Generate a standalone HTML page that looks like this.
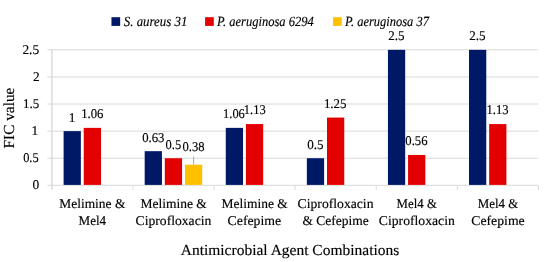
<!DOCTYPE html>
<html><head><meta charset="utf-8"><title>FIC chart</title><style>html,body{margin:0;padding:0;background:#fff;width:550px;height:262px;overflow:hidden}svg{display:block}text{font-family:"Liberation Serif",serif;fill:#000;text-rendering:geometricPrecision;stroke:#000;stroke-width:0.15px}</style></head><body>
<svg width="550" height="262" viewBox="0 0 550 262">
<rect width="550" height="262" fill="#fff"/>
<line x1="47.30" y1="185.30" x2="538.40" y2="185.30" stroke="#d9d9d9" stroke-width="1.00"/>
<line x1="47.30" y1="158.21" x2="538.40" y2="158.21" stroke="#d9d9d9" stroke-width="1.00"/>
<line x1="47.30" y1="131.12" x2="538.40" y2="131.12" stroke="#d9d9d9" stroke-width="1.00"/>
<line x1="47.30" y1="104.03" x2="538.40" y2="104.03" stroke="#d9d9d9" stroke-width="1.00"/>
<line x1="47.30" y1="76.94" x2="538.40" y2="76.94" stroke="#d9d9d9" stroke-width="1.00"/>
<line x1="47.30" y1="49.85" x2="538.40" y2="49.85" stroke="#d9d9d9" stroke-width="1.00"/>
<line x1="51.90" y1="49.35" x2="51.90" y2="189.60" stroke="#d9d9d9" stroke-width="1.40"/>
<line x1="132.98" y1="185.30" x2="132.98" y2="189.60" stroke="#d9d9d9" stroke-width="1.00"/>
<line x1="214.07" y1="185.30" x2="214.07" y2="189.60" stroke="#d9d9d9" stroke-width="1.00"/>
<line x1="295.15" y1="185.30" x2="295.15" y2="189.60" stroke="#d9d9d9" stroke-width="1.00"/>
<line x1="376.23" y1="185.30" x2="376.23" y2="189.60" stroke="#d9d9d9" stroke-width="1.00"/>
<line x1="457.32" y1="185.30" x2="457.32" y2="189.60" stroke="#d9d9d9" stroke-width="1.00"/>
<line x1="538.40" y1="185.30" x2="538.40" y2="189.60" stroke="#d9d9d9" stroke-width="1.00"/>
<rect x="63.60" y="131.12" width="17.25" height="53.78" fill="#001966"/>
<rect x="83.75" y="127.87" width="17.25" height="57.03" fill="#e30000"/>
<rect x="144.68" y="151.17" width="17.25" height="33.73" fill="#001966"/>
<rect x="164.83" y="158.21" width="17.25" height="26.69" fill="#e30000"/>
<rect x="184.98" y="164.71" width="17.25" height="20.19" fill="#ffc000"/>
<rect x="225.77" y="127.87" width="17.25" height="57.03" fill="#001966"/>
<rect x="245.92" y="124.08" width="17.25" height="60.82" fill="#e30000"/>
<rect x="306.85" y="158.21" width="17.25" height="26.69" fill="#001966"/>
<rect x="327.00" y="117.58" width="17.25" height="67.32" fill="#e30000"/>
<rect x="387.93" y="49.85" width="17.25" height="135.05" fill="#001966"/>
<rect x="408.08" y="154.96" width="17.25" height="29.94" fill="#e30000"/>
<rect x="469.02" y="49.85" width="17.25" height="135.05" fill="#001966"/>
<rect x="489.17" y="124.08" width="17.25" height="60.82" fill="#e30000"/>
<line x1="193.61" y1="156.60" x2="193.61" y2="164.71" stroke="#a6a6a6" stroke-width="1"/>
<text x="123.74" y="25.80" font-size="14.00" font-style="italic" textLength="63.67" lengthAdjust="spacingAndGlyphs">S. aureus 31</text>
<text x="216.99" y="25.80" font-size="14.00" font-style="italic" textLength="96.68" lengthAdjust="spacingAndGlyphs">P. aeruginosa 6294</text>
<text x="344.91" y="25.80" font-size="14.00" font-style="italic" textLength="84.04" lengthAdjust="spacingAndGlyphs">P. aeruginosa 37</text>
<text x="59.27" y="207.80" font-size="13.50" textLength="66.11" lengthAdjust="spacingAndGlyphs">Melimine &amp;</text>
<text x="78.57" y="224.90" font-size="13.50" textLength="27.58" lengthAdjust="spacingAndGlyphs">Mel4</text>
<text x="140.50" y="207.80" font-size="13.50" textLength="66.38" lengthAdjust="spacingAndGlyphs">Melimine &amp;</text>
<text x="135.60" y="224.90" font-size="13.50" textLength="75.73" lengthAdjust="spacingAndGlyphs">Ciprofloxacin</text>
<text x="221.62" y="207.80" font-size="13.50" textLength="66.18" lengthAdjust="spacingAndGlyphs">Melimine &amp;</text>
<text x="227.59" y="224.90" font-size="13.50" textLength="53.59" lengthAdjust="spacingAndGlyphs">Cefepime</text>
<text x="297.62" y="207.80" font-size="13.50" textLength="75.87" lengthAdjust="spacingAndGlyphs">Ciprofloxacin</text>
<text x="302.47" y="224.90" font-size="13.50" textLength="66.30" lengthAdjust="spacingAndGlyphs">&amp; Cefepime</text>
<text x="396.58" y="207.80" font-size="13.50" textLength="40.31" lengthAdjust="spacingAndGlyphs">Mel4 &amp;</text>
<text x="378.89" y="224.90" font-size="13.50" textLength="75.91" lengthAdjust="spacingAndGlyphs">Ciprofloxacin</text>
<text x="477.86" y="207.80" font-size="13.50" textLength="40.37" lengthAdjust="spacingAndGlyphs">Mel4 &amp;</text>
<text x="471.25" y="224.90" font-size="13.50" textLength="53.42" lengthAdjust="spacingAndGlyphs">Cefepime</text>
<text x="180.72" y="254.50" font-size="15.30" textLength="218.59" lengthAdjust="spacingAndGlyphs">Antimicrobial Agent Combinations</text>
<text transform="translate(14.00,148.38) rotate(-90)" font-size="15.30" textLength="60.71" lengthAdjust="spacingAndGlyphs">FIC value</text>
<text x="68.65" y="121.52" font-size="13.40">1</text>
<text x="81.23" y="118.27" font-size="13.40" textLength="22.24" lengthAdjust="spacingAndGlyphs">1.06</text>
<text x="142.17" y="141.57" font-size="13.40" textLength="22.25" lengthAdjust="spacingAndGlyphs">0.63</text>
<text x="165.60" y="148.61" font-size="13.40" textLength="15.59" lengthAdjust="spacingAndGlyphs">0.5</text>
<text x="182.50" y="150.50" font-size="13.40" textLength="22.08" lengthAdjust="spacingAndGlyphs">0.38</text>
<text x="223.09" y="118.27" font-size="13.40" textLength="21.75" lengthAdjust="spacingAndGlyphs">1.06</text>
<text x="243.77" y="114.48" font-size="13.40" textLength="21.91" lengthAdjust="spacingAndGlyphs">1.13</text>
<text x="307.27" y="148.61" font-size="13.40" textLength="16.31" lengthAdjust="spacingAndGlyphs">0.5</text>
<text x="323.89" y="107.98" font-size="13.40" textLength="22.70" lengthAdjust="spacingAndGlyphs">1.25</text>
<text x="388.24" y="40.25" font-size="13.40" textLength="16.33" lengthAdjust="spacingAndGlyphs">2.5</text>
<text x="405.31" y="145.36" font-size="13.40" textLength="22.22" lengthAdjust="spacingAndGlyphs">0.56</text>
<text x="469.16" y="40.25" font-size="13.40" textLength="16.36" lengthAdjust="spacingAndGlyphs">2.5</text>
<text x="486.51" y="114.48" font-size="13.40" textLength="22.10" lengthAdjust="spacingAndGlyphs">1.13</text>
<text x="22.42" y="53.65" font-size="13.40" textLength="16.80" lengthAdjust="spacingAndGlyphs">2.5</text>
<text x="33.00" y="80.74" font-size="13.40">2</text>
<text x="23.08" y="107.83" font-size="13.40" textLength="16.18" lengthAdjust="spacingAndGlyphs">1.5</text>
<text x="31.57" y="134.92" font-size="13.40">1</text>
<text x="23.19" y="162.01" font-size="13.40" textLength="15.43" lengthAdjust="spacingAndGlyphs">0.5</text>
<text x="32.51" y="189.10" font-size="13.40">0</text>
<rect x="111.45" y="17.20" width="8.70" height="8.70" fill="#001966"/>
<rect x="205.10" y="17.20" width="8.70" height="8.70" fill="#e30000"/>
<rect x="333.05" y="17.20" width="8.70" height="8.70" fill="#ffc000"/>
</svg></body></html>
